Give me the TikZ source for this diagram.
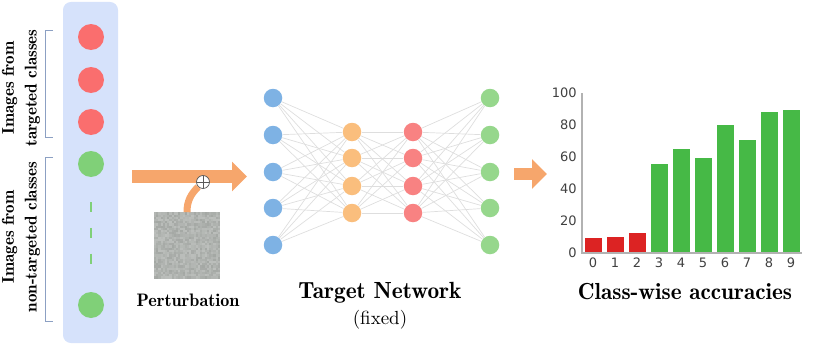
\documentclass[tikz,border=0pt]{standalone}
\usepackage{fontspec}
\usetikzlibrary{arrows.meta,positioning}
\newfontfamily\ticksans{DejaVu Sans}
\newfontfamily\demifont{lmromandemi10-regular.otf}
\definecolor{bandblue}{RGB}{214,226,251}
\definecolor{imgred}{RGB}{250,110,110}
\definecolor{imggreen}{RGB}{128,208,120}
\definecolor{bracketblue}{RGB}{140,160,195}
\definecolor{arrorange}{RGB}{246,166,108}
\definecolor{netblue}{RGB}{126,178,228}
\definecolor{netorange}{RGB}{250,190,125}
\definecolor{netred}{RGB}{248,130,130}
\definecolor{netgreen}{RGB}{150,215,140}
\definecolor{edgegray}{RGB}{222,222,222}
\definecolor{barred}{RGB}{220,35,35}
\definecolor{bargreen}{RGB}{70,185,70}
\definecolor{pertgray}{RGB}{140,145,140}
\definecolor{ticktext}{RGB}{64,64,64}

\begin{document}
\begin{tikzpicture}[
  img/.style={circle, minimum size=0.52cm, inner sep=0pt},
  neuron/.style={circle, minimum size=0.37cm, inner sep=0pt},
  edge/.style={draw=edgegray, line width=0.4pt},
  brace/.style={draw=bracketblue, line width=0.5pt},
  grouplabel/.style={rotate=90, align=center, inner sep=0pt,
                     font=\demifont\fontsize{9.7}{13}\selectfont},
  bigarr/.style={draw=arrorange, -{Triangle[length=0.3cm, width=0.58cm]}},
  oplus/.style={circle, draw=gray!70!black, fill=white, minimum size=0.26cm,
                inner sep=0pt, line width=0.4pt,
                path picture={\draw[gray!70!black, line width=0.4pt]
                  (path picture bounding box.north) -- (path picture bounding box.south)
                  (path picture bounding box.west) -- (path picture bounding box.east);}},
  bar/.style={inner sep=0pt, minimum width=0.34cm, anchor=south},
  ticklabel/.style={font=\ticksans\fontsize{7.4}{8}\selectfont, text=ticktext, inner sep=0pt},
  axis/.style={draw=gray!60, line width=0.8pt}
]
\useasboundingbox (0,0) rectangle (16.42,6.92);
\pgfmathsetseed{7}

% ── Input images ─────────────────────
\fill[bandblue, rounded corners=4.5pt] (1.26,0.06) rectangle (2.36,6.88);
\node[img, fill=imgred]   (img1) at (1.82,6.18) {};
\node[img, fill=imgred]   (img2) at (1.82,5.32) {};
\node[img, fill=imgred]   (img3) at (1.82,4.48) {};
\node[img, fill=imggreen] (img4) at (1.82,3.64) {};
\node[img, fill=imggreen] (img5) at (1.82,0.82) {};
\coordinate (dashtop) at (1.82,2.88);
\coordinate (dashbot) at (1.82,1.46);
\draw[imggreen, line width=1.7pt, dash pattern=on 5.7pt off 9pt] (dashtop) -- (dashbot);

\draw[brace] (1.06,6.32) -- (0.9,6.32) -- (0.9,4.18) -- (1.06,4.18);
\draw[brace] (1.06,3.78) -- (0.9,3.78) -- (0.9,0.5) -- (1.06,0.5);
\node[grouplabel] (tgtlabel) at (0.42,5.16) {Images from\\targeted classes};
\node[grouplabel] (ntglabel) at (0.42,2.18) {Images from\\non-targeted classes};

% ── Perturbation ─────────────────────
\coordinate (arrstart) at (2.64,3.39);
\coordinate (arrtip) at (4.94,3.39);
\draw[bigarr, line width=0.26cm] (arrstart) -- (arrtip);
\node[oplus] (plus) at (4.06,3.28) {};

\node[minimum size=1.32cm, inner sep=0pt, fill=pertgray!70!white,
      path picture={
        \foreach \i in {0,...,29} \foreach \j in {0,...,29} {
          \pgfmathsetmacro\shade{int(58+22*rnd)}
          \fill[pertgray!\shade!white]
            ([xshift=\i*0.044cm, yshift=\j*0.044cm]path picture bounding box.south west)
            rectangle ++(0.045cm,0.045cm);
        }}] (pert) at (3.74,2.01) {};
\draw[arrorange, line width=0.14cm] (pert.north) to[out=90, in=225] (plus);
\node[font=\demifont\fontsize{10.3}{12}\selectfont] (perttext) at (3.76,0.92) {Perturbation};

% ── Target network ───────────────────
\foreach \i/\y in {1/4.96, 2/4.22, 3/3.48, 4/2.76, 5/2.02} {
  \node[neuron, fill=netblue]  (in\i)  at (5.46,\y) {};
  \node[neuron, fill=netgreen] (out\i) at (9.80,\y) {};
}
\foreach \i/\y in {1/4.28, 2/3.76, 3/3.20, 4/2.66} {
  \node[neuron, fill=netorange] (ha\i) at (7.04,\y) {};
  \node[neuron, fill=netred]    (hb\i) at (8.26,\y) {};
}
\foreach \a in {1,...,5} {
  \foreach \b in {1,...,4} {
    \draw[edge] (in\a) -- (ha\b);
    \draw[edge] (hb\b) -- (out\a);
  }
}
\foreach \a in {1,...,4} {
  \foreach \b in {1,...,4} {
    \draw[edge] (ha\a) -- (hb\b);
  }
}
\node[font=\demifont\fontsize{13.3}{15}\selectfont] (netname) at (7.6,1.06) {Target Network};
\node[font=\fontsize{10.8}{12}\selectfont] (fixed) at (7.6,0.52) {(fixed)};

% ── Output arrow ─────────────────────
\coordinate (outstart) at (10.28,3.44);
\coordinate (outtip) at (10.94,3.44);
\draw[bigarr, line width=0.24cm] (outstart) -- (outtip);

% ── Class-wise accuracies ────────────
\foreach \i/\v in {0/9, 1/10, 2/12.5} {
  \node[bar, fill=barred, minimum height=\v*0.032cm] (bar\i) at ({11.86+0.44*\i},1.86) {};
}
\foreach \i/\v in {3/55.5, 4/65, 5/59, 6/79.5, 7/70.5, 8/88, 9/89} {
  \node[bar, fill=bargreen, minimum height=\v*0.032cm] (bar\i) at ({11.86+0.44*\i},1.86) {};
}
\coordinate (origin) at (11.64,1.86);
\coordinate (ytop) at (11.64,5.06);
\coordinate (xend) at (16.04,1.86);
\draw[axis] (ytop) -- (origin) -- (xend);

\foreach \v in {0,20,...,100} {
  \node[ticklabel, anchor=east] (yl\v) at (11.54,{1.86+0.032*\v}) {\v};
}
\foreach \i in {0,...,9} {
  \node[ticklabel] (xl\i) at ({11.86+0.44*\i},1.66) {\i};
}
\node[font=\demifont\fontsize{13.2}{15}\selectfont] (acc) at (13.7,1.08) {Class-wise accuracies};

\end{tikzpicture}
\end{document}
